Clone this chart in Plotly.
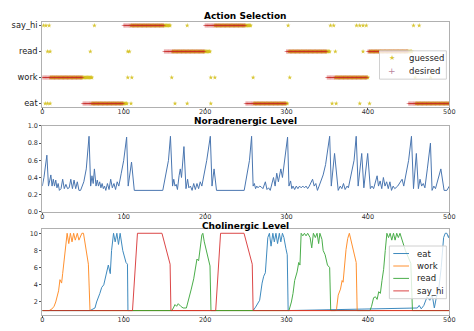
import plotly.graph_objects as go

W, H = 474, 331
FONT = "DejaVu Sans"

# ---------------- data ----------------
actions = ["eat", "work", "read", "say_hi"]

# desired action: constant over blocks
desired_block_start = [0, 50, 100, 150, 200, 250, 300, 350, 400, 450]
desired_block_end = [50, 100, 150, 200, 250, 300, 350, 400, 450, 501]
desired_block_action = ["work", "eat", "say_hi", "read", "say_hi",
                        "eat", "read", "work", "read", "eat"]

# guessed action: runs of identical guesses
guess_run_start = [10, 61, 109, 160, 212, 260, 303, 360, 402, 459]
guess_run_end = [62, 105, 158, 207, 257, 302, 354, 401, 455, 501]
guess_run_action = ["work", "eat", "say_hi", "read", "say_hi",
                    "eat", "read", "work", "read", "eat"]

# isolated guesses
stray_guess_t = [3.6, 6.5, 9.6, 109, 163, 178, 207, 356, 361, 390, 402,
                 105, 110, 159, 207, 212, 259, 304, 458, 477,
                 6.5, 9.6, 59, 105, 107, 360, 394,
                 1.3, 4.5, 8.4, 64, 178, 302, 354, 358, 386, 390, 394, 398, 456, 463]
stray_guess_action = (["eat"] * 11 + ["work"] * 9 + ["read"] * 7 + ["say_hi"] * 14)

# noradrenergic level
ne_t = [0, 2, 5.6, 7.6, 9, 10.5, 12, 13.5, 15, 16.5, 18, 19.5, 21, 23, 25, 27, 29, 31, 33, 35,
        37, 39, 41, 43, 45, 47, 51, 54, 57.4, 59.4, 61, 62.5, 64, 66, 67.5, 69, 70.5, 72, 73.5,
        75, 76.5, 78, 80, 82, 84, 86, 88, 90, 92, 94, 97, 100, 103.6, 105.5, 109.6, 113,
        148, 152, 155, 157.4, 160, 161.5, 163, 164.5, 166, 168, 169.5, 171, 174, 176.5, 178.5,
        180, 182, 184, 186, 188, 190, 192, 194, 196, 199, 202, 206.4, 208.5, 211, 214,
        248, 252, 254.5, 257.1, 259, 260.5, 262, 263.5, 265, 267, 269, 271, 274, 276, 278, 280,
        284, 286, 288, 290, 293, 295, 298, 301.3, 303, 305, 306.5, 308, 310, 312, 314, 316, 318,
        320, 322, 324, 326, 328, 332, 334, 336, 338, 340, 345, 348, 353, 355, 359, 363.5, 366,
        368, 370, 372, 374.4, 376, 380, 383, 385.6, 388, 392.4, 395, 399.7, 403, 405, 407, 411.3,
        413, 415, 417, 419, 421, 423, 425, 427, 429, 431, 433, 436.6, 442, 444, 447, 450, 453.5,
        456, 459.5, 462, 464, 466, 468, 470, 473, 476.8, 478.8, 481, 483, 485, 489.6, 493.6, 497, 500]
ne_v = [0.30, 0.40, 0.66, 0.30, 0.36, 0.43, 0.30, 0.38, 0.30, 0.37, 0.28, 0.33, 0.25, 0.27, 0.38, 0.27, 0.32, 0.27, 0.28, 0.38,
        0.27, 0.37, 0.27, 0.35, 0.25, 0.25, 0.35, 0.50, 0.88, 0.30, 0.42, 0.33, 0.50, 0.30, 0.37, 0.30, 0.35, 0.28, 0.33,
        0.27, 0.30, 0.25, 0.33, 0.26, 0.38, 0.28, 0.33, 0.26, 0.35, 0.30, 0.45, 0.60, 0.87, 0.30, 0.58, 0.25,
        0.25, 0.45, 0.60, 0.88, 0.30, 0.38, 0.30, 0.32, 0.26, 0.42, 0.50, 0.40, 0.76, 0.27, 0.38,
        0.28, 0.30, 0.25, 0.33, 0.26, 0.33, 0.27, 0.35, 0.30, 0.45, 0.60, 0.88, 0.30, 0.50, 0.25,
        0.25, 0.45, 0.60, 0.88, 0.30, 0.33, 0.27, 0.30, 0.28, 0.30, 0.29, 0.27, 0.35, 0.26, 0.28, 0.25,
        0.40, 0.30, 0.45, 0.35, 0.50, 0.40, 0.60, 0.87, 0.30, 0.36, 0.27, 0.30, 0.26, 0.30, 0.27, 0.30, 0.28,
        0.30, 0.28, 0.30, 0.27, 0.30, 0.38, 0.30, 0.33, 0.25, 0.30, 0.43, 0.55, 0.88, 0.30, 0.68, 0.25, 0.30,
        0.27, 0.33, 0.26, 0.30, 0.28, 0.45, 0.60, 0.88, 0.30, 0.68, 0.28, 0.68, 0.27, 0.30, 0.27, 0.42,
        0.30, 0.36, 0.27, 0.40, 0.30, 0.35, 0.27, 0.35, 0.25, 0.30, 0.27, 0.30, 0.38, 0.30, 0.45, 0.60, 0.88,
        0.27, 0.68, 0.27, 0.38, 0.30, 0.33, 0.28, 0.50, 0.80, 0.25, 0.30, 0.27, 0.35, 0.50, 0.25, 0.25, 0.30]

# cholinergic levels
ach_eat_t = [0, 58.6, 64.7, 66.7, 70.7, 73, 75.5, 78.7, 81.1, 83.5, 85.1, 87.5, 89.5, 91.6, 93.6,
             95.6, 98.8, 102.8, 104.6, 105.2, 259, 262, 264.7, 267, 270, 272, 274, 275, 277, 279,
             281, 283.2, 285, 287, 289, 291.2, 293, 295, 296.8, 299.3, 300.9, 302, 460.7, 463,
             465.5, 468.7, 472.7, 476, 479, 481.6, 484, 487, 490, 493, 495, 497, 499, 500]
ach_eat_v = [1.0, 1.0, 1.3, 2.0, 3.0, 3.7, 4.0, 5.5, 6.3, 5.3, 8.0, 10.0, 9.0, 10.0, 8.7,
             10.0, 8.0, 6.6, 6.4, 1.0, 1.0, 1.4, 1.9, 2.2, 4.2, 5.0, 5.4, 6.8, 9.5, 10.0,
             8.5, 10.0, 9.0, 10.0, 8.8, 10.0, 9.0, 10.0, 9.5, 8.2, 7.5, 1.0, 1.3, 1.6,
             1.2, 1.6, 2.6, 2.2, 2.8, 1.3, 2.5, 3.5, 6.0, 9.5, 10.0, 10.0, 9.5, 9.8]

ach_work_t = [0, 8.4, 12, 14.5, 16.5, 18.5, 20, 21.7, 23.7, 25, 26.5, 28.5, 30.5, 32.5, 34.5,
              36.5, 38.5, 40.5, 43, 45, 48.6, 50.6, 56.6, 58.6, 360, 361.5, 363.5, 366.3,
              368.3, 369.5, 371.1, 373.1, 375.2, 377.2, 385.6, 386.8, 500]
ach_work_v = [1.0, 1.0, 1.2, 1.5, 2.0, 2.7, 3.3, 4.6, 4.2, 5.3, 6.5, 8.8, 10.0, 8.8, 10.0,
              9.0, 10.0, 9.2, 10.0, 9.2, 10.0, 10.0, 6.4, 1.0, 1.0, 1.2, 2.8, 3.5,
              4.5, 4.3, 6.2, 8.1, 9.4, 10.0, 6.6, 1.0, 1.0]

ach_read_t = [0, 159, 161, 163, 165, 167, 170, 173, 177, 181, 183, 186, 188, 190, 192, 194, 196,
              197.2, 199, 206, 207.2, 303, 306, 308, 310, 313, 315, 316.5, 318, 320, 322, 324,
              326, 329, 331, 333, 335.4, 337.5, 339.5, 341, 343.5, 345, 347.4, 350.3, 353, 354.3,
              402.5, 404.5, 407, 409.3, 411.3, 413.3, 415.3, 417.3, 419.3, 421.3, 423.3, 425.3,
              427.3, 429.3, 431.4, 433.4, 435.4, 437.4, 439.4, 446, 452.7, 454.7, 500]
ach_read_v = [1.0, 1.0, 1.3, 1.7, 1.5, 1.8, 1.5, 1.3, 1.3, 3.0, 3.5, 4.7, 5.7, 7.0, 6.8, 8.5, 9.8,
              10.0, 9.0, 6.2, 1.0, 1.0, 2.0, 3.0, 4.5, 5.5, 6.6, 6.3, 10.0, 9.7, 10.0, 9.7,
              10.0, 9.5, 8.3, 10.0, 9.5, 10.0, 8.8, 10.0, 9.3, 8.0, 7.5, 6.3, 6.0, 1.0,
              1.0, 1.5, 2.5, 2.6, 2.3, 3.2, 3.0, 4.5, 5.8, 8.0, 10.0, 9.5,
              10.0, 9.2, 10.0, 9.2, 10.0, 9.5, 10.0, 8.0, 6.5, 1.0, 1.0]

ach_sayhi_t = [0, 110.8, 116.9, 147, 157, 158, 213, 219, 247.8, 257.9, 259, 500]
ach_sayhi_v = [1.0, 1.0, 10.0, 10.0, 6.4, 1.0, 1.0, 10.0, 10.0, 6.4, 1.0, 1.0]

x_ticks = [0, 100, 200, 300, 400, 500]

# ---------------- colours ----------------
C_GUESS = "rgba(212,192,30,0.9)"
C_DESIRED = "rgba(200,40,40,0.35)"
C_NE = "#4a76b0"
C_EAT = "#1f77b4"
C_WORK = "#ff7f0e"
C_READ = "#2ca02c"
C_SAYHI = "#d62728"

# ---------------- expand run-length data ----------------
desired_t, desired_a = [], []
for s, e, a in zip(desired_block_start, desired_block_end, desired_block_action):
    for t in range(s, e):
        desired_t.append(t)
        desired_a.append(a)

guess_t, guess_a = [], []
for s, e, a in zip(guess_run_start, guess_run_end, guess_run_action):
    for t in range(s, e):
        guess_t.append(t)
        guess_a.append(a)
guess_t += stray_guess_t
guess_a += stray_guess_action

fig = go.Figure()

fig.add_trace(go.Scatter(x=guess_t, y=guess_a, mode="markers", name="guessed",
                         marker=dict(symbol="star", size=3.5, color=C_GUESS, line=dict(width=0)),
                         xaxis="x", yaxis="y", showlegend=False))
fig.add_trace(go.Scatter(x=desired_t, y=desired_a, mode="markers", name="desired",
                         marker=dict(symbol="cross-thin-open", size=3, color=C_DESIRED,
                                     line=dict(width=1, color=C_DESIRED)),
                         xaxis="x", yaxis="y", showlegend=False))

fig.add_trace(go.Scatter(x=ne_t, y=ne_v, mode="lines", line=dict(color=C_NE, width=1),
                         xaxis="x2", yaxis="y2", showlegend=False))

for tt, vv, col, nm in [(ach_eat_t, ach_eat_v, C_EAT, "eat"),
                        (ach_work_t, ach_work_v, C_WORK, "work"),
                        (ach_read_t, ach_read_v, C_READ, "read"),
                        (ach_sayhi_t, ach_sayhi_v, C_SAYHI, "say_hi")]:
    fig.add_trace(go.Scatter(x=tt, y=vv, mode="lines", name=nm, opacity=0.85,
                             line=dict(color=col, width=1),
                             xaxis="x3", yaxis="y3", showlegend=False))

# ---------------- layout ----------------
X0, X1 = 41, 455


def ydom(top, bottom):
    return [1 - bottom / H, 1 - top / H]


axis_common = dict(showline=True, mirror=True, linecolor="#b0b0b0", linewidth=1,
                   showgrid=False, zeroline=False, ticks="outside", ticklen=2,
                   tickcolor="#555", tickfont=dict(family=FONT, size=6.5, color="#333"))

xcommon = dict(axis_common, range=[0, 500], tickvals=x_ticks, domain=[X0 / W, X1 / W],
               ticklabelstandoff=-4)

layout = dict(
    width=W, height=H, margin=dict(l=0, r=0, t=0, b=0),
    paper_bgcolor="white", plot_bgcolor="white",
    font=dict(family=FONT, color="#222"),
    xaxis=dict(xcommon, anchor="y"),
    xaxis2=dict(xcommon, anchor="y2"),
    xaxis3=dict(xcommon, anchor="y3"),
    yaxis=dict(axis_common, type="category", categoryarray=actions, range=[-0.15, 3.15],
               domain=ydom(18, 106), anchor="x",
               tickfont=dict(family=FONT, size=8.3, color="#222")),
    yaxis2=dict(axis_common, range=[0, 1], tickvals=[0, 0.2, 0.4, 0.6, 0.8, 1.0],
                tickformat=".1f", domain=ydom(125, 213), anchor="x2"),
    yaxis3=dict(axis_common, range=[0.45, 10.45], tickvals=[2, 4, 6, 8, 10],
                domain=ydom(231, 319), anchor="x3"),
    showlegend=False,
)
fig.update_layout(**layout)

# titles
for txt, ty in [("Action Selection", 12.5), ("Noradrenergic Level", 120),
                ("Cholinergic Level", 227)]:
    fig.add_annotation(text="<b>" + txt + "</b>", xref="paper", yref="paper",
                       x=(X0 + X1) / 2 / W, y=1 - ty / H, xanchor="center", yanchor="middle",
                       showarrow=False, font=dict(family=FONT, size=9, color="black"))


def px(x):
    return x / W


def py(y):
    return 1 - y / H


# legend 1 (action selection)
fig.add_shape(type="rect", xref="paper", yref="paper", x0=px(384), x1=px(452), y0=py(48), y1=py(77),
              line=dict(color="#d0d0d0", width=1), fillcolor="rgba(255,255,255,0.8)", layer="above")
leg1 = [("guessed", "★", C_GUESS, 7, 55.5), ("desired", "+", "rgba(170,100,130,0.8)", 9, 68.5)]
for name, sym, col, fs, yy in leg1:
    fig.add_annotation(text=sym, xref="paper", yref="paper", x=px(397), y=py(yy),
                       xanchor="center", yanchor="middle", showarrow=False,
                       font=dict(family=FONT, size=fs, color=col))
    fig.add_annotation(text=name, xref="paper", yref="paper", x=px(411.5), y=py(yy),
                       xanchor="left", yanchor="middle", showarrow=False,
                       font=dict(family=FONT, size=8.5, color="#222"))

# legend 2 (cholinergic)
fig.add_shape(type="rect", xref="paper", yref="paper", x0=px(394), x1=px(452), y0=py(248), y1=py(302),
              line=dict(color="#d0d0d0", width=1), fillcolor="rgba(255,255,255,0.8)", layer="above")
leg2 = [("eat", C_EAT, 255.7), ("work", C_WORK, 268.5), ("read", C_READ, 281.2), ("say_hi", C_SAYHI, 294)]
for name, col, yy in leg2:
    fig.add_shape(type="line", xref="paper", yref="paper", x0=px(398), x1=px(414), y0=py(yy), y1=py(yy),
                  line=dict(color=col, width=1), opacity=0.85, layer="above")
    fig.add_annotation(text=name, xref="paper", yref="paper", x=px(420), y=py(yy),
                       xanchor="left", yanchor="middle", showarrow=False,
                       font=dict(family=FONT, size=8.5, color="#222"))

fig.write_html("out.html")
